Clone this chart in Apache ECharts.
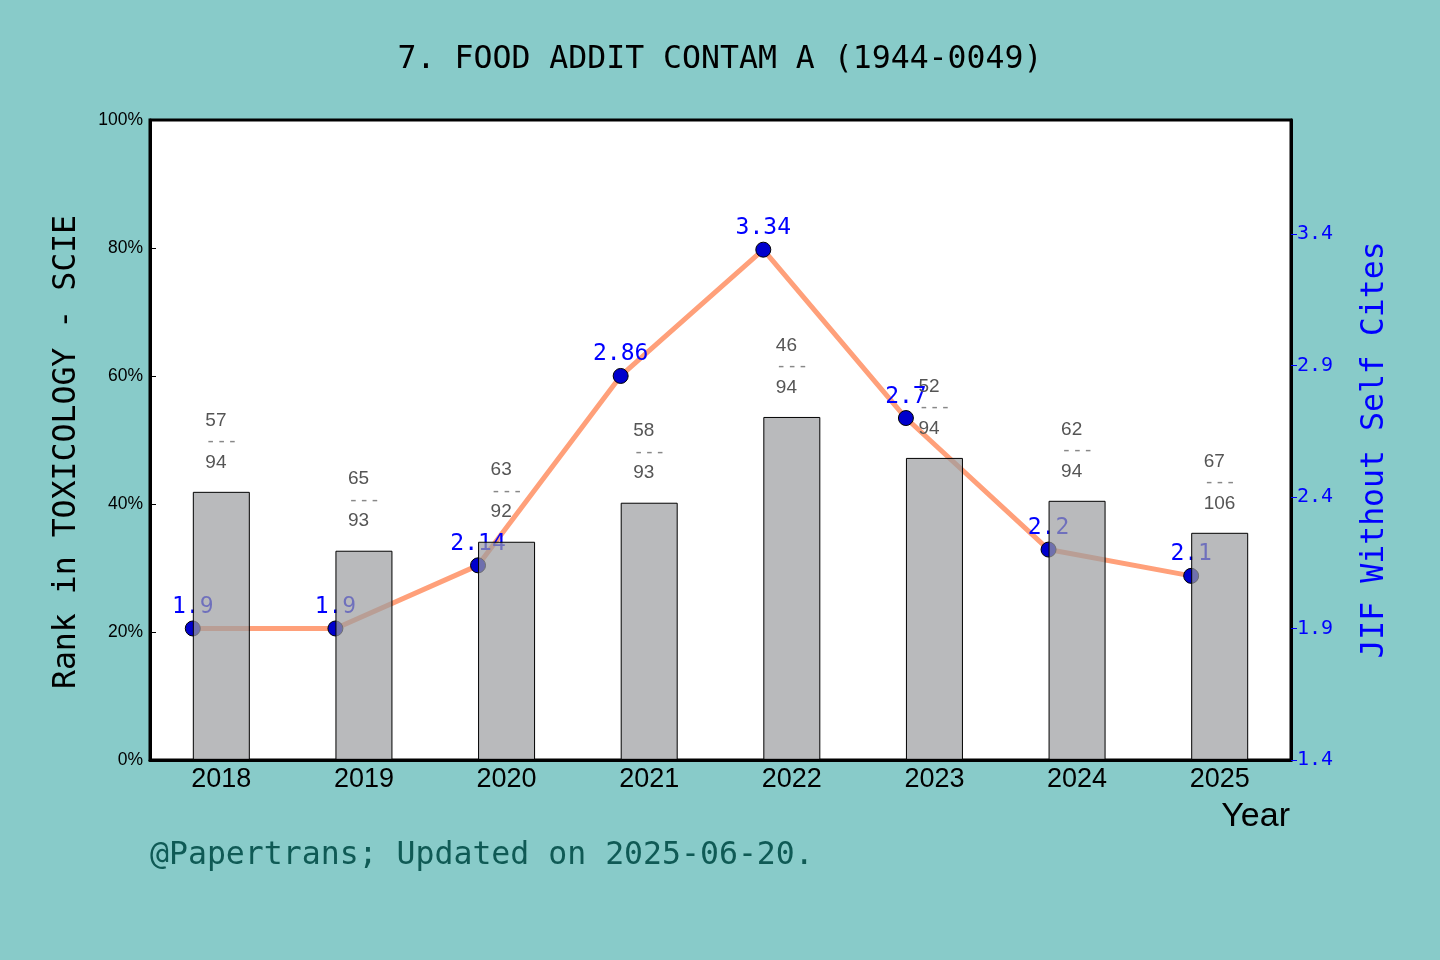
<!DOCTYPE html>
<html>
<head>
<meta charset="utf-8">
<script src="https://cdn.jsdelivr.net/npm/echarts@6/dist/echarts.min.js"></script>
<style>
  html, body { margin: 0; padding: 0; background: #88CBC9; }
  #main { width: 1440px; height: 960px; }
</style>
</head>
<body>
<div id="main"></div>
<script>
// 年份与数据
var years = ['2018', '2019', '2020', '2021', '2022', '2023', '2024', '2025'];
var yearNums = [2018, 2019, 2020, 2021, 2022, 2023, 2024, 2025];
var rankPercent = [41.9, 32.7, 34.1, 40.2, 53.6, 47.2, 40.5, 35.5]; // 柱高 (%)
var rankNum = [57, 65, 63, 58, 46, 52, 62, 67];
var rankTotal = [94, 93, 92, 93, 94, 94, 94, 106];
var jifNoSelf = [1.9, 1.9, 2.14, 2.86, 3.34, 2.7, 2.2, 2.1];
var rightTicks = [1.4, 1.9, 2.4, 2.9, 3.4];

var mono = 'DejaVu Sans Mono';
var sans = 'Liberation Sans';

var chartDom = document.getElementById('main');
var myChart = echarts.init(chartDom);

var barData = rankPercent.map(function (v, i) {
    return { value: v, rank: rankNum[i], total: rankTotal[i] };
});
var lineData = jifNoSelf.map(function (v, i) {
    return [yearNums[i], v];
});

var option = {
    backgroundColor: '#88CBC9',
    animation: false,
    title: {
        text: '7. FOOD ADDIT CONTAM A (1944-0049)',
        left: 'center',
        top: 39,
        textStyle: { fontFamily: mono, fontSize: 31.5, fontWeight: 'normal', color: '#000' }
    },
    grid: {
        left: 150, right: 149, top: 120, bottom: 200,
        show: true,
        backgroundColor: '#fff',
        borderColor: '#000',
        borderWidth: 3
    },
    xAxis: [{
        type: 'category',
        data: years,
        boundaryGap: true,
        axisLine: { lineStyle: { color: '#000', width: 3 } },
        axisTick: { inside: true, length: 6, lineStyle: { color: '#000', width: 1 } },
        axisLabel: { fontFamily: sans, fontSize: 27, color: '#000', margin: 6 },
        splitLine: { show: false }
    }, {
        // 折线用的数值轴，点位于柱子左边缘
        type: 'value',
        min: 2017.7,
        max: 2025.7,
        show: false,
        splitLine: { show: false }
    }],
    yAxis: [{
        type: 'value',
        min: 0,
        max: 100,
        interval: 20,
        axisLine: { show: true, lineStyle: { color: '#000', width: 3 } },
        axisTick: { show: true, inside: true, length: 6, lineStyle: { color: '#000' } },
        axisLabel: { fontFamily: sans, fontSize: 17.5, color: '#000', margin: 7, formatter: '{value}%' },
        splitLine: { show: false }
    }, {
        type: 'value',
        position: 'right',
        min: 1.4,
        max: 3.833,
        interval: 0.5,
        axisLine: { show: true, lineStyle: { color: '#000', width: 3 } },
        axisTick: { show: true, length: 6, lineStyle: { color: '#0000FF' }, customValues: rightTicks },
        axisLabel: {
            fontFamily: mono, fontSize: 20, color: '#0000FF', margin: 6,
            customValues: rightTicks,
            formatter: function (v) { return v.toFixed(1); }
        },
        splitLine: { show: false }
    }],
    series: [{
        type: 'line',
        xAxisIndex: 1,
        yAxisIndex: 1,
        z: 1,
        data: lineData,
        symbol: 'circle',
        symbolSize: 15,
        lineStyle: { color: '#FFA07A', width: 5 },
        itemStyle: { color: '#0000CD', borderColor: '#000', borderWidth: 1 },
        label: {
            show: true,
            position: 'top',
            distance: 2,
            fontFamily: mono,
            fontSize: 23,
            color: '#0000FF',
            formatter: function (p) { return String(p.value[1]); }
        }
    }, {
        type: 'bar',
        xAxisIndex: 0,
        yAxisIndex: 0,
        z: 5,
        data: barData,
        barWidth: 57,
        itemStyle: { color: 'rgba(157,158,160,0.71)', borderColor: '#000', borderWidth: 1 },
        label: {
            show: true,
            position: 'top',
            distance: 19,
            align: 'left',
            offset: [-16, 0],
            fontFamily: sans,
            fontSize: 19,
            lineHeight: 21,
            color: '#555',
            formatter: function (p) { return p.data.rank + '\n{d|---}\n' + p.data.total; },
            rich: {
                d: { fontFamily: mono, fontSize: 18, lineHeight: 21, color: '#888' }
            }
        }
    }],
    graphic: [{
        type: 'text',
        x: 67,
        y: 452,
        rotation: Math.PI / 2,
        style: {
            text: 'Rank in TOXICOLOGY - SCIE', fontFamily: mono, fontSize: 31.5, fill: '#000',
            align: 'center', verticalAlign: 'middle'
        }
    }, {
        type: 'text',
        x: 1375,
        y: 450,
        rotation: Math.PI / 2,
        style: {
            text: 'JIF Without Self Cites', fontFamily: mono, fontSize: 31.5, fill: '#0000FF',
            align: 'center', verticalAlign: 'middle'
        }
    }, {
        type: 'text',
        right: 150,
        top: 800,
        style: { text: 'Year', fontFamily: sans, fontSize: 34, fill: '#000' }
    }, {
        type: 'text',
        left: 150,
        top: 840,
        style: { text: '@Papertrans; Updated on 2025-06-20.', fontFamily: mono, fontSize: 31.5, fill: '#0F5A55' }
    }]
};

option && myChart.setOption(option);
</script>
</body>
</html>
